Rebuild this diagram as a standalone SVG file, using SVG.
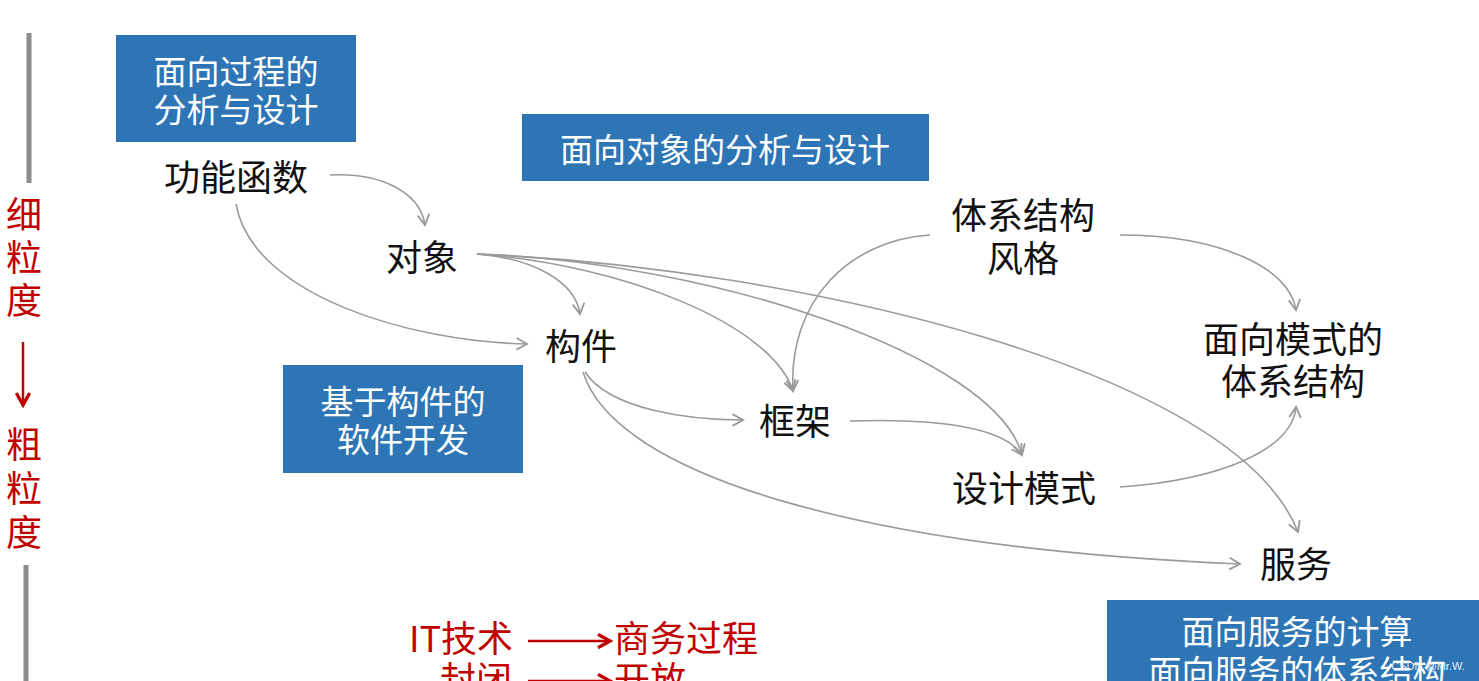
<svg xmlns="http://www.w3.org/2000/svg" width="1479" height="681" viewBox="0 0 1479 681">
<defs>
<marker id="ah" viewBox="0 0 12 12" refX="10" refY="6" markerWidth="14" markerHeight="14" markerUnits="userSpaceOnUse" orient="auto">
<path d="M1,1 L10,6 L1,11" fill="none" stroke="#9a9a9a" stroke-width="1.6"/>
</marker>
<marker id="rah" viewBox="0 0 12 12" refX="10" refY="6" markerWidth="16" markerHeight="16" markerUnits="userSpaceOnUse" orient="auto">
<path d="M1,1 L10,6 L1,11" fill="none" stroke="#c00000" stroke-width="2.5"/>
</marker>
</defs>
<style>
.box{fill:#2e75b6;}
.bt{fill:#ffffff;font-family:"Noto Sans CJK SC",sans-serif;font-size:33px;text-anchor:middle;}
.nt{fill:#111111;font-family:"Noto Sans CJK SC",sans-serif;font-size:36px;text-anchor:middle;}
.rt{fill:#c00000;font-family:"Noto Sans CJK SC",sans-serif;font-size:36px;text-anchor:middle;}
.rb{fill:#c00000;font-family:"Noto Sans CJK SC",sans-serif;font-size:36px;}
.ax{stroke:#8c8c8c;stroke-width:5;}
.cn{fill:none;stroke:#9a9a9a;stroke-width:1.6;marker-end:url(#ah);}
</style>
<rect width="1479" height="681" fill="#ffffff"/>

<g id="axis">
<line class="ax" x1="29" y1="33" x2="29" y2="183"/>
<text class="rt" x="24" y="228">细</text>
<text class="rt" x="24" y="271">粒</text>
<text class="rt" x="24" y="314">度</text>
<line x1="23" y1="342" x2="23" y2="405" stroke="#c00000" stroke-width="2.5" marker-end="url(#rah)"/>
<text class="rt" x="24" y="458">粗</text>
<text class="rt" x="24" y="502">粒</text>
<text class="rt" x="24" y="546">度</text>
<line class="ax" x1="26" y1="565" x2="26" y2="681"/>
</g>

<g id="box-process">
<rect class="box" x="116" y="35" width="240" height="107"/>
<text class="bt" x="236" y="84">面向过程的</text>
<text class="bt" x="236" y="122">分析与设计</text>
</g>
<g id="box-object">
<rect class="box" x="522" y="114" width="407" height="67"/>
<text class="bt" x="725" y="162">面向对象的分析与设计</text>
</g>
<g id="box-component">
<rect class="box" x="283" y="365" width="240" height="108"/>
<text class="bt" x="403" y="414">基于构件的</text>
<text class="bt" x="403" y="452">软件开发</text>
</g>
<g id="box-service">
<rect class="box" x="1107" y="600" width="372" height="90"/>
<text class="bt" x="1297" y="644">面向服务的计算</text>
<text class="bt" x="1297" y="684">面向服务的体系结构</text>
<text x="1428" y="670" fill="#e8eef5" font-family="Liberation Sans, sans-serif" font-size="11" text-anchor="middle">CSDN @Mr.W.</text>
</g>

<g id="n-func"><text class="nt" x="236" y="191">功能函数</text></g>
<g id="n-object"><text class="nt" x="422" y="271">对象</text></g>
<g id="n-component"><text class="nt" x="581" y="360">构件</text></g>
<g id="n-framework"><text class="nt" x="795" y="435">框架</text></g>
<g id="n-archstyle"><text class="nt" x="1023" y="229">体系结构</text><text class="nt" x="1023" y="272">风格</text></g>
<g id="n-patternarch"><text class="nt" x="1293" y="353">面向模式的</text><text class="nt" x="1293" y="395">体系结构</text></g>
<g id="n-designpattern"><text class="nt" x="1024" y="502">设计模式</text></g>
<g id="n-service"><text class="nt" x="1296" y="578">服务</text></g>

<g id="bottom">
<text class="rb" x="409" y="652">IT技术</text>
<line x1="528" y1="641" x2="610" y2="641" stroke="#c00000" stroke-width="2.5" marker-end="url(#rah)"/>
<text class="rb" x="614" y="652">商务过程</text>
<text class="rb" x="440" y="693">封闭</text>
<line x1="528" y1="681" x2="610" y2="681" stroke="#c00000" stroke-width="2.5" marker-end="url(#rah)"/>
<text class="rb" x="614" y="693">开放</text>
</g>

<g id="connectors">
<path class="cn" d="M330,175 C380,172 420,192 425,225"/>
<path class="cn" d="M236,204 C252,295 410,342 527,344"/>
<path class="cn" d="M477,254 C530,258 575,280 580,314"/>
<path class="cn" d="M477,254 C625,265 772,325 793,391"/>
<path class="cn" d="M477,254 C710,262 995,355 1022,455"/>
<path class="cn" d="M477,254 C800,268 1235,370 1298,532"/>
<path class="cn" d="M850,421 C940,418 1005,428 1022,455"/>
<path class="cn" d="M585,372 C610,410 690,420 743,420"/>
<path class="cn" d="M583,372 C615,475 860,548 1240,564"/>
<path class="cn" d="M930,235 C850,240 788,300 793,391"/>
<path class="cn" d="M1120,235 C1220,235 1290,268 1296,310"/>
<path class="cn" d="M1120,487 C1220,480 1292,450 1296,407"/>
</g>
</svg>
